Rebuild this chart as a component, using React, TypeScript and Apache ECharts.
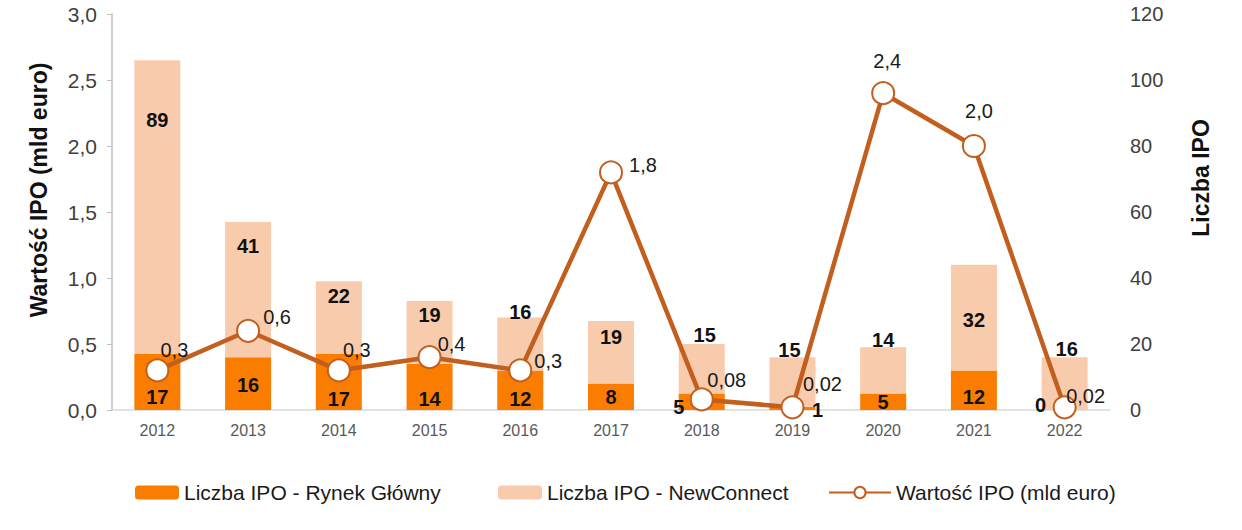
import React, { useEffect, useRef } from "react";
import * as echarts from "echarts";

// Years on the category axis
const years = ["2012", "2013", "2014", "2015", "2016", "2017", "2018", "2019", "2020", "2021", "2022"];
// Number of IPOs on the Main Market
const mainMarket = [17, 16, 17, 14, 12, 8, 5, 1, 5, 12, 0];
// Number of IPOs on NewConnect
const newConnect = [89, 41, 22, 19, 16, 19, 15, 15, 14, 32, 16];
// IPO value, billion euro
const ipoValue = [0.3, 0.6, 0.3, 0.4, 0.3, 1.8, 0.08, 0.02, 2.4, 2.0, 0.02];

const leftTicks = { min: 0, max: 3, interval: 0.5 };
const rightTicks = { min: 0, max: 120, interval: 20 };

const NAME_MAIN = "Liczba IPO - Rynek Główny";
const NAME_NC = "Liczba IPO - NewConnect";
const NAME_VALUE = "Wartość IPO (mld euro)";

// Label nudges (px) relative to each mark's centre
const mainLabelShift: [number, number][] = [
  [0, 15], [0, 1], [0, 17], [0, 12], [0, 9], [0, 0], [-23, 5], [25, 2], [0, 0], [0, 7], [-24, -5],
];
const ncLabelShift: [number, number][] = [
  [0, -87], [0, -44], [0, -22], [0, -17], [0, -32], [0, -15], [3, -34], [-3, -32], [0, -30], [0, 2], [2, -35],
];
const valueLabelShift: [number, number][] = [
  [17, -20], [29, -14], [18, -20], [22, -13], [28, -9], [32, -7], [25, -19], [30, -23], [4, -32], [5, -35], [21, -11],
];

const FONT = "'Liberation Sans', Arial, Helvetica, sans-serif";
const C_MAIN = "#FA7D00";
const C_NC = "#F8CBAD";
const C_LINE = "#C25F1E";

const fmtValue = (v: number) => v.toFixed(v < 0.1 ? 2 : 1).replace(".", ",");

export default function App() {
  const ref = useRef<HTMLDivElement>(null);

  useEffect(() => {
    if (!ref.current) return;
    const chart = echarts.init(ref.current, null, { renderer: "svg" });

    const barLabel = {
      show: true,
      position: "inside",
      color: "#111",
      fontWeight: "bold",
      fontSize: 20,
      fontFamily: FONT,
    };

    const legendBase = {
      top: 477,
      itemHeight: 14,
      textStyle: { fontSize: 21, color: "#1a1a1a", fontFamily: FONT },
      selectedMode: false,
    };

    chart.setOption({
      animation: false,
      backgroundColor: "#ffffff",
      textStyle: { fontFamily: FONT },
      grid: { left: 112, right: 132, top: 14, bottom: 120, containLabel: false },
      legend: [
        { ...legendBase, left: 130, itemWidth: 44, data: [NAME_MAIN] },
        { ...legendBase, left: 493, itemWidth: 44, data: [NAME_NC] },
        { ...legendBase, left: 823, itemWidth: 62, data: [NAME_VALUE] },
      ],
      xAxis: {
        type: "category",
        data: years,
        axisLine: { lineStyle: { color: "#d9d9d9", width: 1.5 } },
        axisTick: { show: false },
        axisLabel: { color: "#595959", fontSize: 16, margin: 12, fontFamily: FONT },
      },
      yAxis: [
        {
          type: "value",
          ...leftTicks,
          position: "left",
          axisLine: { show: true, lineStyle: { color: "#bfbfbf", width: 1.5 } },
          axisTick: { show: true, length: 5, lineStyle: { color: "#bfbfbf" } },
          splitLine: { show: false },
          axisLabel: {
            color: "#404040",
            fontSize: 21,
            margin: 15,
            fontFamily: FONT,
            formatter: (v: number) => v.toFixed(1).replace(".", ","),
          },
        },
        {
          type: "value",
          ...rightTicks,
          position: "right",
          axisLine: { show: false },
          axisTick: { show: false },
          splitLine: { show: false },
          axisLabel: { color: "#404040", fontSize: 20, margin: 20, fontFamily: FONT },
        },
      ],
      graphic: [
        {
          type: "text",
          x: 39,
          y: 190,
          rotation: Math.PI / 2,
          style: {
            text: "Wartość IPO (mld euro)",
            font: `bold 23px ${FONT}`,
            fill: "#111",
            textAlign: "center",
            textVerticalAlign: "middle",
          },
        },
        {
          type: "text",
          x: 1201,
          y: 178,
          rotation: Math.PI / 2,
          style: {
            text: "Liczba IPO",
            font: `bold 23px ${FONT}`,
            fill: "#111",
            textAlign: "center",
            textVerticalAlign: "middle",
          },
        },
      ],
      series: [
        {
          name: NAME_MAIN,
          type: "bar",
          yAxisIndex: 1,
          stack: "ipo",
          barWidth: 46,
          itemStyle: { color: C_MAIN },
          data: mainMarket.map((v, i) => ({
            value: v,
            label: { ...barLabel, offset: mainLabelShift[i] },
          })),
        },
        {
          name: NAME_NC,
          type: "bar",
          yAxisIndex: 1,
          stack: "ipo",
          barWidth: 46,
          itemStyle: { color: C_NC },
          data: newConnect.map((v, i) => ({
            value: v,
            label: { ...barLabel, offset: ncLabelShift[i] },
          })),
        },
        {
          name: NAME_VALUE,
          type: "line",
          yAxisIndex: 0,
          symbol: "circle",
          symbolSize: 22,
          lineStyle: { color: C_LINE, width: 4.5 },
          itemStyle: { color: "#ffffff", borderColor: C_LINE, borderWidth: 2 },
          z: 5,
          data: ipoValue.map((v, i) => ({
            value: v,
            label: {
              show: true,
              position: "inside",
              offset: valueLabelShift[i],
              color: "#1a1a1a",
              fontSize: 20,
              fontFamily: FONT,
              formatter: (p: any) => fmtValue(p.value),
            },
          })),
        },
      ],
    });

    return () => chart.dispose();
  }, []);

  return (
    <div
      ref={ref}
      style={{ position: "fixed", left: 0, top: 0, width: 1242, height: 530, background: "#fff" }}
    />
  );
}
